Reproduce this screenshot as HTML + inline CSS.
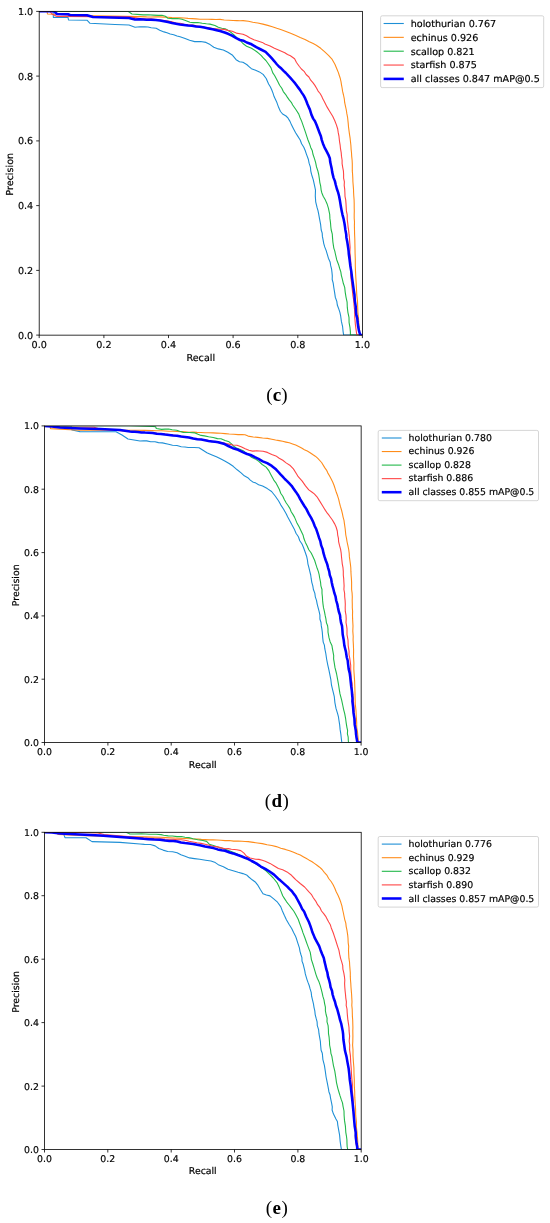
<!DOCTYPE html>
<html lang="en"><head><meta charset="utf-8"><title>Precision-Recall curves</title>
<style>
html,body{margin:0;padding:0;background:#fff;}
body{width:550px;height:1223px;overflow:hidden;}
svg{display:block;}
</style></head><body>
<svg width="550" height="1223" viewBox="0 0 550 1223">
<rect width="550" height="1223" fill="#fff"/>
<clipPath id="cp1"><rect x="39.2" y="11.35" width="323.2" height="323.8"/></clipPath>
<g font-family="'DejaVu Sans', 'Liberation Sans', sans-serif" font-size="9.6" fill="#000" stroke="#000" stroke-width="0.18" text-rendering="geometricPrecision">
<polyline points="39.2,11.3 53.0,11.3 53.4,17.4 68.0,17.4 68.5,20.0 87.0,20.2 90.0,23.3 100.0,23.8 115.0,24.5 129.0,25.0 135.0,27.2 140.0,26.8 144.8,26.9 148.0,27.0 151.2,27.7 156.2,28.3 159.7,30.2 164.0,31.9 167.0,32.7 170.2,34.0 173.7,34.7 177.0,36.0 180.1,36.7 185.1,38.5 189.6,40.3 194.7,41.6 200.6,41.5 206.0,42.4 210.1,44.6 213.8,47.2 218.3,48.9 223.3,50.0 227.9,52.3 232.6,55.3 236.1,59.7 239.5,61.7 242.9,62.3 246.7,64.5 249.0,66.6 251.4,68.7 255.6,70.2 259.4,71.9 263.1,74.4 266.2,78.5 268.6,84.0 270.3,86.7 271.7,89.7 273.0,93.1 274.1,96.6 275.6,99.8 276.9,102.6 278.7,107.6 280.5,111.5 282.6,114.0 286.0,116.0 288.1,118.2 290.0,121.4 291.6,125.1 293.6,129.0 295.6,132.8 297.9,136.4 300.2,140.0 301.6,143.8 303.8,147.2 305.2,150.5 306.4,154.1 308.4,159.5 309.1,163.2 310.4,167.1 310.8,171.1 311.6,174.5 313.3,179.9 314.4,184.8 315.5,190.1 315.3,195.9 315.7,201.8 317.1,207.7 318.0,210.6 318.6,213.6 319.6,219.2 320.6,224.4 321.2,230.0 322.2,233.1 322.4,236.4 323.1,239.8 323.7,243.3 324.7,246.9 326.1,250.4 327.3,254.3 328.4,258.2 330.1,261.9 330.7,265.7 331.6,269.2 332.0,272.6 332.3,275.9 332.2,279.5 333.2,283.2 333.8,287.5 334.6,292.3 335.3,297.2 336.8,301.4 337.3,305.0 338.5,308.2 339.9,312.4 340.7,316.2 341.4,321.4 342.6,326.7 343.1,331.6 343.6,334.9 343.5,334.9 362.4,335.1" fill="none" stroke="#1e8fd6" stroke-width="1.1" stroke-linejoin="round" clip-path="url(#cp1)"/>
<polyline points="39.2,11.3 47.0,11.3 47.5,14.0 60.0,14.5 80.0,15.5 110.0,16.0 140.0,16.6 146.6,16.9 151.0,17.0 155.7,16.7 160.0,16.9 164.0,17.1 168.0,17.3 172.0,17.6 176.0,17.8 180.0,17.9 184.0,18.0 188.0,18.4 192.0,18.6 196.0,18.9 200.0,19.2 204.0,19.2 208.0,19.3 212.0,19.4 216.0,19.5 220.0,19.4 224.2,20.0 228.7,20.2 233.1,20.5 237.0,20.6 240.0,20.7 243.1,20.6 248.4,21.3 252.8,22.3 257.8,23.0 262.9,24.1 267.7,25.4 272.3,26.7 276.8,28.3 281.4,29.7 286.0,31.4 290.6,33.3 295.3,35.2 300.2,37.4 305.0,39.4 309.3,41.8 313.2,43.6 316.3,45.2 320.7,48.3 324.5,51.6 328.5,55.3 332.2,59.4 334.9,64.3 337.2,69.8 338.4,72.6 339.3,75.5 340.3,78.5 341.0,81.6 341.5,84.8 342.1,88.0 342.6,91.4 343.5,95.0 344.3,98.8 344.7,102.7 345.5,106.3 346.2,109.5 346.9,113.9 347.6,117.5 348.2,123.1 348.5,126.7 349.0,130.6 349.5,134.4 350.1,138.2 350.5,141.8 350.9,145.5 351.1,149.1 351.5,152.8 351.7,156.4 352.1,160.0 352.3,163.6 352.3,167.3 352.3,170.9 352.6,174.5 352.8,178.1 352.9,181.8 353.2,185.4 353.5,189.1 353.6,192.7 353.8,196.3 354.1,199.9 354.2,203.5 354.2,207.2 354.3,210.9 354.2,214.6 354.2,218.2 354.5,222.0 354.4,225.8 354.5,230.0 354.6,234.4 354.8,239.0 354.9,243.9 355.0,248.9 355.1,254.1 355.3,259.6 355.3,265.4 355.5,271.3 355.8,277.3 356.2,283.2 356.5,289.1 356.8,295.2 357.5,301.1 357.7,306.9 357.9,312.3 358.4,317.6 358.8,322.9 359.3,327.8 359.7,331.9 359.8,334.9 362.4,335.1" fill="none" stroke="#ff8c1a" stroke-width="1.1" stroke-linejoin="round" clip-path="url(#cp1)"/>
<polyline points="39.2,11.3 123.0,11.3 128.0,11.3 132.0,14.0 140.0,14.6 143.2,14.9 148.0,14.7 153.3,15.1 158.3,15.4 162.0,15.3 165.3,16.3 167.9,18.3 172.5,18.6 177.6,18.5 182.0,19.2 185.5,20.5 189.9,22.3 193.5,22.6 197.8,22.5 202.2,23.3 206.4,23.8 210.0,24.1 214.9,25.5 218.3,27.3 221.8,28.2 225.1,28.7 227.9,30.3 231.5,32.8 234.0,35.0 237.1,38.1 240.7,40.8 242.9,43.5 246.6,46.2 251.5,48.3 256.5,51.5 258.8,53.4 261.3,55.6 263.5,58.2 265.9,60.5 267.7,63.0 270.9,67.6 272.8,72.9 274.6,75.5 276.2,78.5 277.9,81.8 279.6,85.2 281.8,88.3 283.3,91.6 285.5,94.3 287.3,97.1 289.2,99.9 291.3,102.3 292.7,105.0 296.0,109.8 298.8,114.1 299.9,117.3 301.7,121.4 303.0,125.1 304.4,129.1 305.6,132.7 306.8,136.3 308.0,140.0 309.5,143.7 310.7,147.4 312.2,150.4 312.9,154.0 314.7,159.4 315.7,162.9 316.5,166.9 317.8,170.7 318.7,174.5 319.3,178.3 319.8,182.3 320.7,186.2 321.1,189.8 321.8,192.7 323.2,196.2 325.4,200.1 327.0,203.7 328.4,208.1 329.7,214.3 329.9,218.4 330.5,222.7 330.8,226.7 331.2,230.0 332.3,234.2 332.5,237.4 332.9,242.1 333.8,248.1 334.8,251.1 335.4,254.0 336.7,259.7 338.8,265.3 339.7,268.5 340.8,271.9 341.4,275.6 342.4,279.4 343.3,283.3 344.7,287.4 345.2,292.1 346.0,297.1 347.1,302.2 347.3,307.4 347.9,312.3 349.0,317.3 349.1,322.6 350.0,327.6 350.4,331.9 350.4,334.9 350.7,334.9 362.4,335.1" fill="none" stroke="#22b84a" stroke-width="1.1" stroke-linejoin="round" clip-path="url(#cp1)"/>
<polyline points="39.2,11.3 50.0,11.3 52.0,14.0 57.0,16.4 100.0,16.6 130.0,16.8 140.0,18.5 146.5,19.1 151.1,18.9 155.7,19.5 160.0,20.0 164.0,20.5 168.0,21.1 172.0,21.9 176.0,23.0 180.1,23.2 184.2,24.2 188.5,24.8 192.8,25.1 196.7,25.9 200.0,26.6 204.7,27.2 208.2,27.5 212.0,28.6 216.0,28.8 220.0,29.3 224.0,29.4 228.0,30.4 232.2,31.3 236.3,33.1 240.0,33.8 243.0,34.3 246.5,35.8 249.7,37.8 253.9,39.7 259.3,41.4 262.3,42.4 264.9,44.0 270.1,45.9 274.4,48.2 279.1,50.2 284.8,52.7 287.5,54.5 290.4,55.7 294.6,58.7 296.5,62.5 299.4,66.5 301.4,69.0 304.1,71.3 306.1,74.5 308.9,77.0 310.7,80.2 312.9,82.7 314.9,85.4 316.6,88.2 318.1,91.1 320.1,93.5 321.7,96.2 322.9,99.1 324.4,101.7 327.0,106.9 329.9,111.7 332.7,116.2 334.8,120.7 336.4,124.9 337.7,129.0 338.2,132.4 338.9,135.8 339.5,141.3 340.1,144.8 340.5,148.7 341.2,152.6 341.5,156.4 342.1,160.0 342.1,163.7 342.7,167.3 343.4,170.8 343.6,174.5 343.6,178.2 344.4,181.8 344.2,185.4 344.7,189.1 344.9,192.7 345.0,196.3 345.7,199.9 346.0,203.6 346.2,207.2 346.4,210.9 347.2,214.8 347.2,219.0 347.7,223.0 348.1,226.8 348.6,230.0 349.0,233.9 349.4,236.9 349.8,243.1 350.1,247.4 349.9,252.1 350.4,256.8 350.7,261.4 351.0,265.8 350.6,270.1 350.7,274.5 351.0,278.8 351.6,283.2 352.0,287.4 352.5,291.5 352.9,295.7 353.7,300.1 354.0,305.0 354.7,310.9 354.8,317.8 355.4,324.7 356.2,330.7 356.8,334.9 356.6,334.9 362.4,335.1" fill="none" stroke="#ff4545" stroke-width="1.1" stroke-linejoin="round" clip-path="url(#cp1)"/>
<polyline points="39.2,11.3 54.0,11.3 57.0,14.0 68.0,14.2 70.0,15.0 87.0,15.2 93.0,17.0 110.0,17.5 129.0,18.0 135.0,19.5 140.0,19.3 146.6,19.8 151.0,19.7 155.7,20.1 160.0,20.4 164.0,21.2 168.0,22.1 172.0,23.0 176.0,23.7 180.0,24.6 184.0,24.9 188.0,25.5 192.0,25.8 196.0,26.4 200.0,26.8 204.2,27.5 208.5,28.4 212.7,29.2 216.6,30.2 220.0,31.0 224.7,32.5 228.1,33.8 232.0,35.7 236.3,38.2 240.0,40.0 243.7,40.8 246.8,42.5 251.6,44.3 256.3,47.1 260.9,49.5 265.6,51.9 269.8,56.2 272.1,58.7 274.4,61.3 276.6,64.0 278.9,66.5 281.4,68.6 283.6,70.8 285.9,73.0 288.1,75.4 290.4,77.8 292.7,80.5 295.2,83.4 297.5,86.6 299.8,89.6 301.7,92.6 303.6,95.4 305.2,98.4 306.4,101.3 307.5,104.3 309.9,109.6 311.5,114.9 313.2,118.6 315.0,121.3 316.6,125.0 318.1,129.0 319.5,132.7 320.9,136.3 321.8,140.1 323.0,143.7 324.5,147.3 326.4,150.9 328.3,154.6 329.8,158.2 330.2,161.9 331.0,165.5 331.7,168.6 332.2,172.1 333.5,177.6 334.9,181.1 335.8,185.0 336.9,189.0 338.2,192.7 339.1,196.3 339.8,199.9 340.4,203.6 341.0,207.2 341.7,210.9 342.5,214.8 343.6,218.9 344.4,223.0 345.0,226.8 345.4,230.0 346.2,234.2 346.4,237.4 347.3,242.1 348.2,248.0 348.6,251.1 348.8,254.1 349.6,259.9 350.3,265.7 351.3,271.5 352.0,277.4 352.8,283.2 353.6,289.0 354.5,294.8 354.8,300.6 355.7,306.4 356.0,312.3 356.4,315.3 357.3,318.4 357.5,321.5 358.2,326.8 359.0,330.9 359.9,333.9 360.1,334.9 362.4,335.1" fill="none" stroke="#0000ff" stroke-width="2.55" stroke-linejoin="round" clip-path="url(#cp1)"/>
<rect x="39.2" y="11.35" width="323.2" height="323.8" fill="none" stroke="#000" stroke-width="0.8"/>
<line x1="39.2" y1="335.1" x2="39.2" y2="338.1" stroke="#000" stroke-width="0.8"/>
<line x1="39.2" y1="335.1" x2="36.2" y2="335.1" stroke="#000" stroke-width="0.8"/>
<text x="39.2" y="347.7" text-anchor="middle">0.0</text>
<text x="33.2" y="338.6" text-anchor="end">0.0</text>
<line x1="103.9" y1="335.1" x2="103.9" y2="338.1" stroke="#000" stroke-width="0.8"/>
<line x1="39.2" y1="270.4" x2="36.2" y2="270.4" stroke="#000" stroke-width="0.8"/>
<text x="103.9" y="347.7" text-anchor="middle">0.2</text>
<text x="33.2" y="273.9" text-anchor="end">0.2</text>
<line x1="168.5" y1="335.1" x2="168.5" y2="338.1" stroke="#000" stroke-width="0.8"/>
<line x1="39.2" y1="205.6" x2="36.2" y2="205.6" stroke="#000" stroke-width="0.8"/>
<text x="168.5" y="347.7" text-anchor="middle">0.4</text>
<text x="33.2" y="209.1" text-anchor="end">0.4</text>
<line x1="233.1" y1="335.1" x2="233.1" y2="338.1" stroke="#000" stroke-width="0.8"/>
<line x1="39.2" y1="140.9" x2="36.2" y2="140.9" stroke="#000" stroke-width="0.8"/>
<text x="233.1" y="347.7" text-anchor="middle">0.6</text>
<text x="33.2" y="144.4" text-anchor="end">0.6</text>
<line x1="297.8" y1="335.1" x2="297.8" y2="338.1" stroke="#000" stroke-width="0.8"/>
<line x1="39.2" y1="76.1" x2="36.2" y2="76.1" stroke="#000" stroke-width="0.8"/>
<text x="297.8" y="347.7" text-anchor="middle">0.8</text>
<text x="33.2" y="79.6" text-anchor="end">0.8</text>
<line x1="362.4" y1="335.1" x2="362.4" y2="338.1" stroke="#000" stroke-width="0.8"/>
<line x1="39.2" y1="11.4" x2="36.2" y2="11.4" stroke="#000" stroke-width="0.8"/>
<text x="362.4" y="347.7" text-anchor="middle">1.0</text>
<text x="33.2" y="14.9" text-anchor="end">1.0</text>
<text x="200.8" y="360.55" text-anchor="middle">Recall</text>
<text transform="translate(13.1,174.3) rotate(-90)" text-anchor="middle">Precision</text>
<rect x="380.6" y="15.8" width="163.1" height="71.8" rx="1.6" fill="#fff" fill-opacity="0.8" stroke="#cccccc" stroke-width="0.8"/>
<line x1="383.6" y1="23.5" x2="403.8" y2="23.5" stroke="#1e8fd6" stroke-width="1.1"/>
<text x="410.7" y="26.9">holothurian 0.767</text>
<line x1="383.6" y1="37.35" x2="403.8" y2="37.35" stroke="#ff8c1a" stroke-width="1.1"/>
<text x="410.7" y="40.7">echinus 0.926</text>
<line x1="383.6" y1="51.2" x2="403.8" y2="51.2" stroke="#22b84a" stroke-width="1.1"/>
<text x="410.7" y="54.6">scallop 0.821</text>
<line x1="383.6" y1="65.05" x2="403.8" y2="65.05" stroke="#ff4545" stroke-width="1.1"/>
<text x="410.7" y="68.4">starfish 0.875</text>
<line x1="383.6" y1="78.9" x2="403.8" y2="78.9" stroke="#0000ff" stroke-width="2.55"/>
<text x="410.7" y="82.3">all classes 0.847 mAP@0.5</text>
</g>
<text x="277" y="400.5" text-anchor="middle" font-family="'Liberation Serif', serif" font-size="19" fill="#000" letter-spacing="0.05">(<tspan font-weight="bold">c</tspan>)</text>
<clipPath id="cp2"><rect x="44.55" y="425.9" width="316.6" height="316.6"/></clipPath>
<g font-family="'DejaVu Sans', 'Liberation Sans', sans-serif" font-size="9.35" fill="#000" stroke="#000" stroke-width="0.18" text-rendering="geometricPrecision">
<polyline points="44.5,425.9 71.0,425.9 72.0,430.0 80.0,431.6 116.0,431.8 122.0,435.0 128.0,439.0 140.0,441.0 143.6,440.8 146.7,440.9 150.7,441.8 155.0,441.8 158.5,442.6 162.4,442.9 168.5,444.2 172.5,445.3 177.0,445.5 181.2,446.7 185.0,447.0 188.2,447.5 194.0,447.5 199.0,447.8 203.0,450.3 206.9,452.8 211.4,454.7 216.4,456.7 221.0,459.0 225.2,461.2 229.1,463.5 233.2,466.3 237.2,469.8 241.1,472.9 244.3,475.8 247.8,477.7 250.3,480.1 252.7,481.9 255.9,483.1 258.6,484.7 262.6,486.1 267.3,488.6 271.6,491.5 275.2,496.0 278.5,500.7 280.9,505.1 283.6,509.3 286.3,514.1 287.6,516.8 289.1,519.5 291.8,524.6 294.2,528.9 296.0,533.2 298.4,536.8 299.8,540.7 302.0,544.0 303.4,547.2 304.7,550.8 306.6,556.2 307.4,559.8 307.9,563.8 308.9,567.7 309.8,571.4 310.7,575.0 311.2,578.7 311.8,582.3 312.8,585.9 313.4,589.5 314.8,593.1 315.3,596.8 316.5,600.4 317.2,604.1 318.1,607.7 319.1,611.4 319.9,615.1 319.9,619.0 321.0,622.5 321.3,625.9 321.9,629.1 322.3,632.1 322.7,637.6 323.2,642.1 324.4,645.1 324.8,648.7 325.8,653.5 326.6,659.0 327.7,664.6 329.0,670.4 329.6,673.4 330.8,679.3 331.5,685.2 332.9,690.9 334.3,696.7 334.9,702.6 336.0,708.4 337.6,713.6 338.4,716.6 338.9,720.0 339.6,724.3 340.1,729.4 340.9,734.6 341.4,739.2 341.8,742.3 341.6,742.3 361.1,742.5" fill="none" stroke="#1e8fd6" stroke-width="1.1" stroke-linejoin="round" clip-path="url(#cp2)"/>
<polyline points="44.5,425.9 50.0,425.9 50.5,428.6 80.0,430.2 89.6,430.2 103.5,430.2 119.1,430.3 133.8,430.3 145.0,430.4 151.9,430.6 156.2,430.7 161.7,430.8 165.0,431.0 169.0,431.2 173.0,431.3 177.0,431.5 181.0,431.6 185.0,431.9 189.0,432.3 193.0,432.1 197.0,432.4 201.0,432.5 205.0,432.7 209.0,432.7 213.0,432.9 217.0,433.1 221.0,433.3 225.0,433.6 229.2,434.0 233.7,434.3 238.1,434.6 242.0,434.5 245.0,434.8 248.1,436.1 253.3,437.0 257.7,437.4 262.6,438.0 267.5,438.4 271.8,439.2 275.6,440.0 279.2,440.6 282.6,441.3 286.0,442.1 289.3,442.8 292.6,443.9 295.7,445.1 298.7,446.6 301.6,448.1 304.4,449.7 307.3,451.1 310.1,452.7 312.7,454.5 315.3,456.2 317.6,458.2 321.6,462.5 324.7,467.6 326.5,470.1 327.9,473.1 329.6,476.0 331.2,479.0 332.8,482.2 334.1,485.5 335.2,488.9 336.3,492.3 337.6,495.8 338.7,499.3 339.5,502.9 340.4,506.4 341.5,510.0 342.4,513.6 343.1,517.1 344.0,520.4 344.4,523.4 345.2,529.0 345.8,535.0 346.5,538.4 347.1,542.0 347.9,545.7 348.7,549.5 349.2,553.2 349.4,556.9 349.9,560.5 350.4,564.1 350.8,567.8 350.9,571.4 351.1,575.0 351.4,578.6 351.6,582.3 351.6,585.9 351.6,589.5 352.1,593.1 352.3,596.8 352.2,600.4 352.3,604.1 352.3,607.7 352.6,611.4 352.5,615.2 352.6,618.9 352.8,622.5 353.0,625.9 352.8,631.1 353.2,636.3 353.1,640.0 353.4,644.9 353.6,650.6 353.5,656.7 353.9,663.0 353.8,669.1 354.2,674.9 354.6,680.7 354.8,686.6 355.0,692.4 355.1,698.2 355.3,704.3 356.0,710.5 356.3,716.7 356.7,722.4 356.7,727.3 357.4,731.4 357.8,735.0 358.1,738.1 358.4,742.3 358.4,742.3 361.1,742.5" fill="none" stroke="#ff8c1a" stroke-width="1.1" stroke-linejoin="round" clip-path="url(#cp2)"/>
<polyline points="44.5,425.9 59.7,425.9 81.8,425.8 106.5,425.8 129.1,425.8 145.0,426.2 152.9,426.4 155.6,426.8 156.3,428.5 161.6,429.4 165.0,429.1 168.7,429.0 172.2,429.7 176.7,430.2 179.6,431.3 183.4,432.4 189.6,432.5 195.0,432.9 198.0,434.3 201.1,435.4 204.4,435.9 208.6,436.8 213.2,437.5 217.5,438.6 221.0,438.7 225.1,440.4 229.1,441.8 231.5,443.8 233.6,446.2 236.4,448.0 239.8,449.3 243.2,450.7 245.8,452.9 248.6,454.9 251.5,457.3 255.2,458.9 258.8,461.4 262.2,464.5 266.1,467.1 269.0,470.9 271.2,475.2 273.8,480.1 275.9,482.8 277.6,486.1 279.4,489.5 280.7,493.2 282.8,496.3 284.3,499.6 286.1,502.8 288.2,505.7 290.0,508.6 291.2,511.8 292.9,514.4 294.5,517.1 296.7,522.4 299.2,526.9 301.1,531.0 303.0,534.9 304.0,538.8 305.4,542.4 307.2,546.0 308.8,549.7 311.2,553.0 313.0,556.8 314.7,560.5 315.8,564.1 316.8,567.2 318.3,571.4 319.1,574.4 319.7,578.0 320.5,581.8 320.9,585.8 322.0,589.5 322.0,593.2 322.4,596.8 322.6,600.4 323.0,604.1 323.5,607.7 324.4,611.4 325.1,615.2 325.9,618.9 326.4,622.6 327.6,625.8 328.0,629.1 328.0,632.2 329.0,637.7 330.1,641.7 331.9,645.4 332.6,649.7 333.7,655.6 333.6,658.8 334.1,661.8 335.0,667.7 336.5,673.5 337.6,679.3 338.6,685.0 339.5,690.9 340.0,693.9 340.8,696.9 341.6,699.9 342.8,705.5 343.7,709.8 344.7,713.6 345.5,717.8 346.1,722.3 346.9,727.3 347.6,730.3 347.4,733.8 348.2,737.2 348.3,740.3 348.5,742.3 361.1,742.5" fill="none" stroke="#22b84a" stroke-width="1.1" stroke-linejoin="round" clip-path="url(#cp2)"/>
<polyline points="44.5,425.9 60.0,427.0 94.0,427.2 100.0,429.0 130.0,431.5 134.7,431.8 141.2,432.1 148.9,432.9 157.1,433.2 165.0,434.0 173.1,435.0 181.8,436.2 190.4,438.0 198.4,439.1 205.0,439.9 209.9,440.7 213.5,441.6 218.7,442.1 223.1,442.7 226.0,443.6 229.0,444.1 232.8,445.0 237.0,445.2 241.1,446.7 245.2,448.7 248.9,450.2 252.6,451.1 256.5,450.8 259.6,451.0 263.1,451.3 267.4,452.4 271.8,454.4 275.9,455.9 279.2,458.3 282.8,460.3 286.1,462.9 289.8,465.2 293.4,468.9 296.6,474.0 298.2,476.7 302.2,481.1 305.5,485.9 308.8,489.9 311.8,492.0 314.3,493.9 317.0,496.8 319.4,500.6 322.1,505.0 325.4,510.4 327.3,513.2 329.3,515.7 332.4,520.0 334.5,523.6 336.1,527.0 337.3,531.0 337.7,535.0 338.4,538.0 338.6,541.6 339.5,545.4 340.6,549.3 341.2,553.2 341.5,556.8 341.9,560.5 342.3,564.1 343.0,567.7 343.3,571.4 343.3,575.0 343.7,578.6 343.9,582.2 344.1,585.9 343.9,589.5 344.6,593.1 344.7,596.8 345.1,600.4 345.3,604.1 345.2,607.7 345.3,611.4 346.0,615.2 346.2,618.9 346.0,622.5 346.6,625.9 347.0,628.9 347.0,634.6 348.0,640.0 348.2,645.6 349.1,651.3 349.0,654.5 349.7,657.9 350.2,661.5 350.7,665.3 350.7,669.3 351.0,673.5 351.2,678.1 352.1,683.0 352.2,688.1 352.7,693.2 353.0,698.0 353.6,702.5 353.9,707.0 354.1,711.3 354.1,715.6 355.1,720.0 355.2,724.8 355.4,730.0 355.7,735.0 356.6,739.3 356.9,742.3 356.6,742.3 361.1,742.5" fill="none" stroke="#ff4545" stroke-width="1.1" stroke-linejoin="round" clip-path="url(#cp2)"/>
<polyline points="44.5,425.9 52.0,426.4 60.0,427.6 80.0,428.4 100.0,429.0 120.0,430.0 130.0,431.6 132.0,431.7 134.7,431.8 137.9,432.0 141.4,432.4 145.0,432.6 148.7,432.7 152.7,432.9 156.7,433.7 160.9,433.9 165.0,434.6 169.0,434.9 173.0,435.5 177.0,435.7 181.0,436.6 185.0,436.9 189.1,437.6 193.2,438.5 197.3,439.2 201.3,439.6 205.0,440.3 208.5,440.9 211.9,441.4 215.1,441.8 218.2,442.2 223.7,443.7 228.3,446.0 232.9,448.2 238.0,449.8 242.7,452.1 247.1,454.0 251.5,455.3 254.9,457.2 258.5,458.8 262.7,461.3 267.2,463.2 271.8,465.9 276.2,469.6 278.4,472.0 280.5,474.4 282.7,476.7 284.8,479.0 287.1,481.1 289.3,483.4 291.6,485.8 293.6,488.7 295.9,491.9 298.3,495.5 300.3,499.4 302.5,503.0 304.5,506.2 306.3,508.9 308.8,513.8 311.3,518.1 313.3,522.3 314.8,526.2 316.3,529.3 317.5,532.9 319.1,537.9 320.4,541.4 321.2,545.4 322.7,549.3 323.5,553.2 324.6,556.9 325.8,560.5 327.2,564.1 328.1,567.8 329.2,571.4 329.8,575.1 331.1,578.6 331.7,582.3 332.5,585.9 333.5,589.5 334.4,593.2 335.6,596.7 336.2,600.5 337.3,604.1 338.0,607.8 338.8,611.5 340.0,615.1 340.4,618.9 341.0,622.6 342.0,625.9 342.3,629.0 342.7,634.5 343.7,640.0 344.4,645.8 345.9,651.6 346.8,657.5 347.7,660.5 348.0,663.6 348.7,669.1 349.7,673.1 350.2,676.8 350.8,682.6 351.2,686.4 351.8,690.5 352.1,694.5 352.5,698.2 352.4,701.4 353.1,707.1 353.5,712.7 354.4,718.5 354.7,724.4 355.8,730.5 356.0,734.0 356.5,737.4 357.3,742.3 357.2,742.3 361.1,742.5" fill="none" stroke="#0000ff" stroke-width="2.55" stroke-linejoin="round" clip-path="url(#cp2)"/>
<rect x="44.55" y="425.9" width="316.6" height="316.6" fill="none" stroke="#000" stroke-width="0.8"/>
<line x1="44.5" y1="742.55" x2="44.5" y2="745.55" stroke="#000" stroke-width="0.8"/>
<line x1="44.55" y1="742.5" x2="41.55" y2="742.5" stroke="#000" stroke-width="0.8"/>
<text x="44.5" y="755.0" text-anchor="middle">0.0</text>
<text x="38.9" y="746.0" text-anchor="end">0.0</text>
<line x1="107.9" y1="742.55" x2="107.9" y2="745.55" stroke="#000" stroke-width="0.8"/>
<line x1="44.55" y1="679.2" x2="41.55" y2="679.2" stroke="#000" stroke-width="0.8"/>
<text x="107.9" y="755.0" text-anchor="middle">0.2</text>
<text x="38.9" y="682.6" text-anchor="end">0.2</text>
<line x1="171.2" y1="742.55" x2="171.2" y2="745.55" stroke="#000" stroke-width="0.8"/>
<line x1="44.55" y1="615.9" x2="41.55" y2="615.9" stroke="#000" stroke-width="0.8"/>
<text x="171.2" y="755.0" text-anchor="middle">0.4</text>
<text x="38.9" y="619.3" text-anchor="end">0.4</text>
<line x1="234.5" y1="742.55" x2="234.5" y2="745.55" stroke="#000" stroke-width="0.8"/>
<line x1="44.55" y1="552.6" x2="41.55" y2="552.6" stroke="#000" stroke-width="0.8"/>
<text x="234.5" y="755.0" text-anchor="middle">0.6</text>
<text x="38.9" y="556.0" text-anchor="end">0.6</text>
<line x1="297.8" y1="742.55" x2="297.8" y2="745.55" stroke="#000" stroke-width="0.8"/>
<line x1="44.55" y1="489.2" x2="41.55" y2="489.2" stroke="#000" stroke-width="0.8"/>
<text x="297.8" y="755.0" text-anchor="middle">0.8</text>
<text x="38.9" y="492.6" text-anchor="end">0.8</text>
<line x1="361.1" y1="742.55" x2="361.1" y2="745.55" stroke="#000" stroke-width="0.8"/>
<line x1="44.55" y1="425.9" x2="41.55" y2="425.9" stroke="#000" stroke-width="0.8"/>
<text x="361.1" y="755.0" text-anchor="middle">1.0</text>
<text x="38.9" y="429.3" text-anchor="end">1.0</text>
<text x="202.8" y="767.55" text-anchor="middle">Recall</text>
<text transform="translate(19.1,585.3) rotate(-90)" text-anchor="middle">Precision</text>
<rect x="378.2" y="430.4" width="160.3" height="70.3" rx="1.6" fill="#fff" fill-opacity="0.8" stroke="#cccccc" stroke-width="0.8"/>
<line x1="381.8" y1="438.0" x2="401.5" y2="438.0" stroke="#1e8fd6" stroke-width="1.1"/>
<text x="408.6" y="440.7">holothurian 0.780</text>
<line x1="381.8" y1="451.55" x2="401.5" y2="451.55" stroke="#ff8c1a" stroke-width="1.1"/>
<text x="408.6" y="454.2">echinus 0.926</text>
<line x1="381.8" y1="465.1" x2="401.5" y2="465.1" stroke="#22b84a" stroke-width="1.1"/>
<text x="408.6" y="467.8">scallop 0.828</text>
<line x1="381.8" y1="478.65" x2="401.5" y2="478.65" stroke="#ff4545" stroke-width="1.1"/>
<text x="408.6" y="481.3">starfish 0.886</text>
<line x1="381.8" y1="492.2" x2="401.5" y2="492.2" stroke="#0000ff" stroke-width="2.55"/>
<text x="408.6" y="494.9">all classes 0.855 mAP@0.5</text>
</g>
<text x="277" y="806.5" text-anchor="middle" font-family="'Liberation Serif', serif" font-size="19" fill="#000" letter-spacing="0.5">(<tspan font-weight="bold">d</tspan>)</text>
<clipPath id="cp3"><rect x="44.5" y="832.3" width="316.7" height="317.2"/></clipPath>
<g font-family="'DejaVu Sans', 'Liberation Sans', sans-serif" font-size="9.35" fill="#000" stroke="#000" stroke-width="0.18" text-rendering="geometricPrecision">
<polyline points="44.5,832.3 63.0,832.3 65.0,837.6 86.0,837.8 92.0,841.6 120.0,842.4 140.0,844.0 144.4,844.4 150.4,844.5 155.1,845.9 158.8,848.5 163.1,850.1 167.7,851.5 172.7,851.7 177.1,852.7 180.9,854.8 185.1,856.2 189.5,857.9 194.4,858.6 199.7,859.3 205.6,860.2 211.0,861.0 215.3,862.6 218.9,865.1 223.4,866.7 228.0,869.3 233.1,870.8 238.1,872.3 242.9,873.6 246.6,874.9 248.8,877.0 252.2,879.8 255.6,882.3 258.0,885.4 260.5,889.8 263.0,893.7 266.4,895.0 270.0,895.9 273.4,898.6 277.5,902.2 280.7,906.6 282.4,911.0 284.3,915.3 286.4,919.7 289.0,924.3 291.7,928.5 293.6,932.5 295.4,935.9 296.5,938.8 297.5,942.1 299.4,947.9 300.0,951.3 300.9,954.5 301.9,957.6 302.0,961.1 303.2,964.3 304.0,967.7 304.8,970.8 305.3,973.9 307.0,979.6 308.0,982.4 309.2,985.5 310.1,988.9 311.2,992.4 311.6,996.2 312.5,999.9 313.4,1003.6 314.0,1007.3 314.8,1010.9 315.2,1014.6 316.1,1018.2 317.1,1021.8 317.3,1025.7 318.6,1029.7 319.0,1033.7 319.6,1037.2 320.4,1041.7 320.6,1045.0 321.1,1050.2 322.3,1053.2 322.6,1056.4 322.9,1059.6 324.4,1065.3 325.3,1071.2 326.1,1077.0 327.3,1082.8 328.4,1088.6 328.9,1091.7 330.0,1094.7 330.5,1097.8 331.6,1103.2 332.3,1106.9 332.1,1110.0 333.5,1114.1 335.8,1118.8 337.4,1121.5 337.8,1125.1 338.6,1129.6 339.6,1135.1 340.1,1140.8 340.8,1145.8 341.4,1149.3 341.2,1149.3 361.2,1149.5" fill="none" stroke="#1e8fd6" stroke-width="1.1" stroke-linejoin="round" clip-path="url(#cp3)"/>
<polyline points="44.5,832.3 56.0,832.3 58.0,834.4 80.0,835.5 120.0,836.6 123.2,836.6 127.5,836.7 132.7,836.7 138.6,836.8 145.0,836.8 152.4,837.1 160.9,837.3 169.7,837.7 178.0,838.2 185.0,838.5 190.3,838.8 194.4,839.0 198.0,839.1 201.3,839.4 205.0,839.6 209.0,839.9 213.0,839.9 217.0,840.0 221.0,840.3 225.0,840.6 229.2,840.5 233.7,841.1 238.1,841.0 242.0,841.3 245.0,841.5 248.2,841.6 253.3,842.4 257.5,843.0 262.3,843.6 267.1,844.7 271.8,845.5 276.3,846.6 280.8,848.2 285.3,849.4 289.6,850.8 293.6,852.3 297.0,853.8 300.3,855.1 303.2,856.7 306.0,858.2 308.8,859.9 311.7,861.5 314.4,863.4 317.0,865.2 319.6,867.2 322.1,869.5 324.3,872.3 326.8,875.1 328.7,878.5 331.1,881.5 333.1,884.8 334.8,888.2 336.2,891.8 338.0,895.3 339.5,898.8 340.8,902.3 341.9,905.9 342.6,909.5 343.4,913.0 344.1,916.5 344.8,919.8 345.8,923.1 346.2,926.6 346.9,929.8 347.7,935.1 348.0,938.3 348.2,942.8 348.7,946.3 348.5,950.3 348.7,954.4 348.9,958.2 349.5,961.8 349.7,965.5 350.0,969.1 350.3,972.8 350.3,976.4 350.5,980.0 350.8,983.6 351.0,987.3 351.3,990.9 351.6,994.5 351.8,998.1 352.0,1001.8 351.8,1005.4 352.2,1009.1 352.3,1012.7 352.4,1016.4 352.7,1020.2 352.8,1023.9 352.9,1027.5 352.8,1030.9 352.9,1036.1 352.8,1041.3 352.6,1045.0 353.0,1049.9 353.0,1055.6 353.4,1061.7 353.9,1068.0 354.0,1074.1 354.3,1079.9 354.3,1085.7 354.7,1091.6 354.8,1097.4 355.2,1103.2 355.6,1109.2 355.7,1115.4 356.4,1121.5 356.4,1127.3 357.0,1132.3 357.4,1136.7 357.7,1140.8 357.8,1144.3 358.2,1149.3 358.4,1149.3 361.2,1149.5" fill="none" stroke="#ff8c1a" stroke-width="1.1" stroke-linejoin="round" clip-path="url(#cp3)"/>
<polyline points="44.5,832.3 126.0,832.3 130.0,834.0 134.6,834.0 141.5,833.7 149.1,834.2 156.0,834.3 161.0,834.6 163.7,835.2 168.2,835.9 172.4,836.0 177.1,836.6 181.5,836.5 185.0,837.3 188.9,837.6 193.0,838.8 197.8,839.8 202.9,840.5 206.6,841.4 209.3,844.2 213.4,845.5 219.3,847.6 222.3,848.3 227.2,850.0 231.2,851.4 235.0,852.9 239.3,855.0 243.4,857.1 246.1,858.7 250.1,859.5 253.9,862.7 259.0,865.7 262.9,868.6 266.3,871.0 269.4,874.2 273.3,878.0 277.0,882.6 279.2,887.1 280.9,891.1 282.7,895.8 284.5,898.6 286.6,901.8 289.1,905.0 291.5,908.2 293.7,911.0 295.3,913.8 298.1,919.0 300.0,924.3 302.1,930.0 303.0,932.9 304.7,937.2 306.1,941.2 307.3,944.6 309.0,949.1 310.2,952.1 310.8,955.7 311.4,959.6 312.7,963.5 313.8,967.2 314.9,970.9 316.0,974.6 317.3,978.3 319.0,981.8 320.2,985.4 321.2,989.1 322.1,992.7 322.9,996.4 324.0,999.9 324.6,1003.6 325.4,1007.2 325.4,1010.9 326.1,1014.5 327.1,1018.1 327.0,1021.8 328.1,1025.6 328.4,1029.7 328.5,1033.7 329.1,1037.2 329.5,1041.7 329.6,1045.0 330.6,1050.1 330.9,1053.3 331.9,1056.4 332.4,1059.5 333.4,1065.3 334.8,1071.1 335.7,1076.9 336.5,1082.6 337.9,1088.6 338.9,1092.0 340.0,1095.7 341.2,1099.4 342.5,1102.9 343.0,1106.1 344.0,1111.0 344.1,1115.3 344.5,1120.4 345.4,1126.1 345.6,1129.2 345.8,1132.3 346.4,1135.8 346.9,1139.7 347.0,1143.6 347.2,1147.0 347.7,1149.3 361.2,1149.5" fill="none" stroke="#22b84a" stroke-width="1.1" stroke-linejoin="round" clip-path="url(#cp3)"/>
<polyline points="44.5,832.3 70.0,832.3 98.0,833.0 104.0,834.5 140.0,837.5 143.5,837.9 148.4,838.1 154.1,838.6 159.9,838.8 165.0,839.1 169.3,839.2 173.4,839.3 177.2,839.7 181.1,839.7 185.0,840.3 189.0,841.2 193.0,842.0 197.0,842.8 201.0,843.4 205.0,844.3 209.1,845.2 213.3,846.2 217.4,846.9 221.4,847.9 224.9,848.7 228.3,848.6 231.4,849.2 236.8,849.8 240.8,850.6 244.0,853.1 246.3,856.0 250.1,858.0 255.6,859.3 259.0,859.4 262.3,860.3 265.2,861.2 270.0,863.4 274.3,866.0 278.4,868.5 282.7,869.8 287.0,871.9 291.5,875.3 293.6,877.5 295.7,879.7 300.2,883.5 304.6,887.0 308.7,891.7 311.3,894.3 313.3,897.7 315.7,901.1 317.6,904.7 320.0,907.7 321.5,911.0 323.7,913.6 325.7,916.3 327.2,919.2 328.7,922.0 330.3,924.7 331.2,927.7 333.3,933.0 334.4,936.4 335.6,940.0 337.6,946.3 338.9,950.2 339.7,954.4 340.6,958.3 341.7,961.8 342.7,965.4 342.9,969.2 343.8,972.8 344.4,976.4 344.8,980.0 344.6,983.7 344.8,987.3 345.1,990.9 345.5,994.5 345.8,998.1 346.4,1001.8 346.2,1005.4 347.0,1009.0 347.2,1012.7 347.5,1016.4 347.9,1020.2 348.5,1023.9 349.0,1027.5 349.1,1030.9 349.6,1036.1 349.2,1041.3 349.7,1045.0 349.6,1049.9 350.4,1055.7 350.7,1062.0 351.2,1068.2 351.5,1074.1 351.9,1079.4 352.4,1084.6 352.2,1089.7 352.8,1094.7 353.2,1100.0 353.5,1105.6 353.8,1111.4 354.3,1117.2 354.5,1122.8 354.9,1128.0 355.5,1133.0 355.4,1138.0 355.8,1142.7 356.7,1146.5 356.6,1149.3 361.2,1149.5" fill="none" stroke="#ff4545" stroke-width="1.1" stroke-linejoin="round" clip-path="url(#cp3)"/>
<polyline points="44.5,832.3 52.0,832.6 60.0,833.6 80.0,834.4 100.0,835.6 120.0,837.0 140.0,838.4 143.5,838.8 148.4,839.2 154.1,839.6 159.9,839.8 165.0,840.6 169.3,840.9 173.4,841.1 177.3,841.6 181.0,842.6 185.0,843.1 189.0,843.5 193.0,844.0 197.0,844.7 201.0,845.5 205.0,846.5 209.2,847.2 213.5,848.1 217.7,849.4 221.6,850.3 225.0,850.8 229.7,852.5 233.1,853.4 237.0,854.8 241.3,856.3 244.9,857.8 247.8,858.8 251.7,861.0 256.3,863.4 260.8,866.5 265.3,868.9 269.6,871.5 274.0,874.6 278.2,878.7 280.5,880.6 282.8,882.6 285.0,884.6 287.3,886.6 289.4,888.9 291.7,891.0 293.6,893.6 295.7,896.3 297.4,899.5 299.1,902.7 300.8,905.9 302.2,909.0 304.1,911.5 306.3,916.8 308.9,922.0 310.1,925.1 311.3,928.6 312.3,932.0 313.6,935.0 315.0,938.4 317.3,942.7 319.2,946.1 320.6,950.2 322.2,954.3 323.8,958.1 324.6,961.9 325.5,965.5 326.3,969.2 327.4,972.7 328.0,976.5 329.1,980.0 330.0,983.6 330.6,987.3 332.0,990.8 332.6,994.5 333.7,998.2 335.0,1001.7 335.9,1005.5 337.2,1009.0 338.2,1012.7 339.2,1016.4 340.1,1020.2 341.3,1023.9 342.0,1027.5 342.7,1030.9 343.1,1034.0 343.4,1039.5 344.2,1045.0 345.0,1050.8 346.5,1056.6 347.5,1062.4 348.6,1068.2 349.3,1074.1 349.8,1079.9 350.7,1085.7 351.3,1091.5 352.0,1097.4 352.6,1103.2 353.2,1109.0 353.7,1114.8 354.2,1120.6 354.7,1126.3 355.7,1132.3 355.7,1135.8 356.1,1139.8 356.6,1143.6 357.2,1146.9 357.2,1149.3 361.2,1149.5" fill="none" stroke="#0000ff" stroke-width="2.55" stroke-linejoin="round" clip-path="url(#cp3)"/>
<rect x="44.5" y="832.3" width="316.7" height="317.2" fill="none" stroke="#000" stroke-width="0.8"/>
<line x1="44.5" y1="1149.5" x2="44.5" y2="1152.5" stroke="#000" stroke-width="0.8"/>
<line x1="44.5" y1="1149.5" x2="41.5" y2="1149.5" stroke="#000" stroke-width="0.8"/>
<text x="44.5" y="1162.0" text-anchor="middle">0.0</text>
<text x="38.9" y="1152.9" text-anchor="end">0.0</text>
<line x1="107.8" y1="1149.5" x2="107.8" y2="1152.5" stroke="#000" stroke-width="0.8"/>
<line x1="44.5" y1="1086.1" x2="41.5" y2="1086.1" stroke="#000" stroke-width="0.8"/>
<text x="107.8" y="1162.0" text-anchor="middle">0.2</text>
<text x="38.9" y="1089.5" text-anchor="end">0.2</text>
<line x1="171.2" y1="1149.5" x2="171.2" y2="1152.5" stroke="#000" stroke-width="0.8"/>
<line x1="44.5" y1="1022.6" x2="41.5" y2="1022.6" stroke="#000" stroke-width="0.8"/>
<text x="171.2" y="1162.0" text-anchor="middle">0.4</text>
<text x="38.9" y="1026.0" text-anchor="end">0.4</text>
<line x1="234.5" y1="1149.5" x2="234.5" y2="1152.5" stroke="#000" stroke-width="0.8"/>
<line x1="44.5" y1="959.2" x2="41.5" y2="959.2" stroke="#000" stroke-width="0.8"/>
<text x="234.5" y="1162.0" text-anchor="middle">0.6</text>
<text x="38.9" y="962.6" text-anchor="end">0.6</text>
<line x1="297.9" y1="1149.5" x2="297.9" y2="1152.5" stroke="#000" stroke-width="0.8"/>
<line x1="44.5" y1="895.7" x2="41.5" y2="895.7" stroke="#000" stroke-width="0.8"/>
<text x="297.9" y="1162.0" text-anchor="middle">0.8</text>
<text x="38.9" y="899.2" text-anchor="end">0.8</text>
<line x1="361.2" y1="1149.5" x2="361.2" y2="1152.5" stroke="#000" stroke-width="0.8"/>
<line x1="44.5" y1="832.3" x2="41.5" y2="832.3" stroke="#000" stroke-width="0.8"/>
<text x="361.2" y="1162.0" text-anchor="middle">1.0</text>
<text x="38.9" y="835.7" text-anchor="end">1.0</text>
<text x="202.8" y="1174.40" text-anchor="middle">Recall</text>
<text transform="translate(19.1,991.9) rotate(-90)" text-anchor="middle">Precision</text>
<rect x="378.2" y="836.5" width="160.3" height="70.6" rx="1.6" fill="#fff" fill-opacity="0.8" stroke="#cccccc" stroke-width="0.8"/>
<line x1="381.8" y1="844.1" x2="401.5" y2="844.1" stroke="#1e8fd6" stroke-width="1.1"/>
<text x="408.6" y="847.1">holothurian 0.776</text>
<line x1="381.8" y1="857.7" x2="401.5" y2="857.7" stroke="#ff8c1a" stroke-width="1.1"/>
<text x="408.6" y="860.7">echinus 0.929</text>
<line x1="381.8" y1="871.3" x2="401.5" y2="871.3" stroke="#22b84a" stroke-width="1.1"/>
<text x="408.6" y="874.3">scallop 0.832</text>
<line x1="381.8" y1="884.9" x2="401.5" y2="884.9" stroke="#ff4545" stroke-width="1.1"/>
<text x="408.6" y="887.9">starfish 0.890</text>
<line x1="381.8" y1="898.5" x2="401.5" y2="898.5" stroke="#0000ff" stroke-width="2.55"/>
<text x="408.6" y="901.5">all classes 0.857 mAP@0.5</text>
</g>
<text x="277" y="1214.2" text-anchor="middle" font-family="'Liberation Serif', serif" font-size="19" fill="#000" letter-spacing="0.5">(<tspan font-weight="bold">e</tspan>)</text>
</svg>
</body></html>
